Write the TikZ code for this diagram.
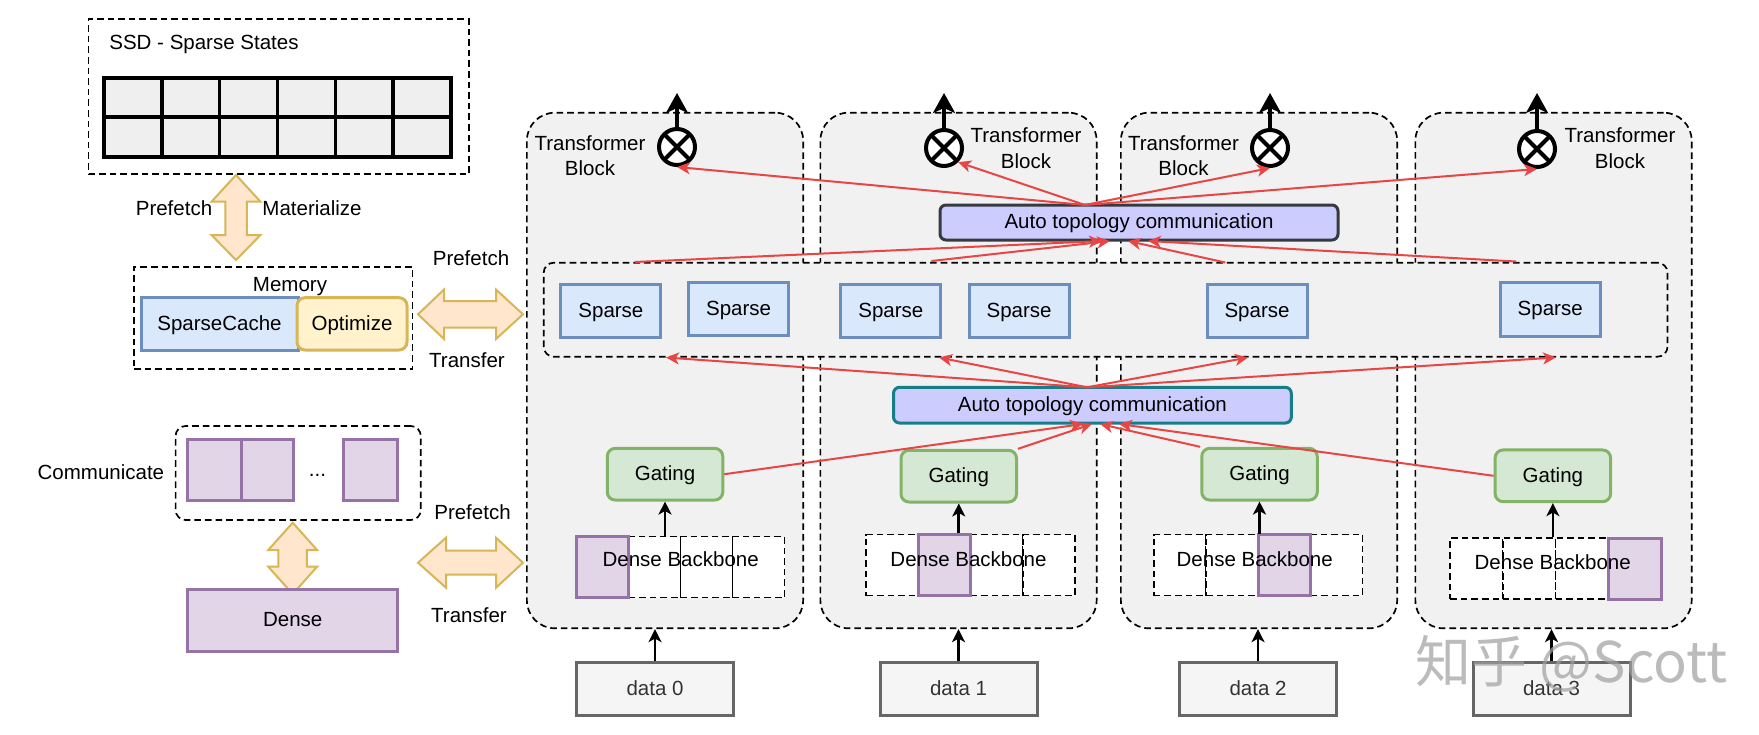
\documentclass[tikz,border=0pt]{standalone}
\usepackage{fontspec}
\setmainfont{Liberation Sans}
\newfontfamily\cjkfont{Noto Sans CJK SC}
\usetikzlibrary{arrows.meta,calc}
\definecolor{cfill}{HTML}{F1F1F1}
\definecolor{gridfill}{HTML}{EFEFEF}
\definecolor{bluefill}{HTML}{DAE8FC}
\definecolor{bluedraw}{HTML}{6C8EBF}
\definecolor{greenfill}{HTML}{D5E8D4}
\definecolor{greendraw}{HTML}{82B366}
\definecolor{purfill}{HTML}{E1D5E7}
\definecolor{purdraw}{HTML}{9673A6}
\definecolor{yelfill}{HTML}{FFF2CC}
\definecolor{yeldraw}{HTML}{D6B656}
\definecolor{peach}{HTML}{FFE6CC}
\definecolor{autofill}{HTML}{CCCCFF}
\definecolor{autodraw}{HTML}{36393D}
\definecolor{tealdraw}{HTML}{177E89}
\definecolor{datafill}{HTML}{F5F5F5}
\definecolor{datadraw}{HTML}{666666}
\definecolor{redline}{HTML}{E84545}
\tikzset{
  px/.style 2 args={minimum width={(#1)*0.5pt}, minimum height={(#2)*0.5pt}},
  lbl/.style={font=\fontsize{10.25}{12.8}\selectfont, inner sep=0pt, text height=7.2pt, text depth=1pt},
  lbltwo/.style={font=\fontsize{10.25}{12.8}\selectfont, inner sep=0pt, align=center},
  box/.style={draw, line width=1.5pt, inner sep=0pt, font=\fontsize{10.25}{12.8}\selectfont, text height=7.2pt, text depth=1pt},
  dashbox/.style={draw, line width=0.85pt, dash pattern=on 3.3pt off 2pt, inner sep=0pt},
  container/.style={dashbox, fill=cfill, rounded corners=14pt},
  sparsebox/.style={box, fill=bluefill, draw=bluedraw},
  gatebox/.style={box, fill=greenfill, draw=greendraw, rounded corners=4pt},
  purbox/.style={box, fill=purfill, draw=purdraw},
  cellbox/.style={dashbox, fill=white},
  databox/.style={box, fill=datafill, draw=datadraw, text=black!80},
  autobox/.style={box, fill=autofill, rounded corners=3pt},
  redarrow/.style={draw=redline, line width=1pt, -{Stealth[length=6.5pt,width=6pt,inset=1.8pt]}},
  blkarrow/.style={line width=1.3pt, -{Stealth[length=6.5pt,width=6.5pt,inset=1.8pt]}},
  outarrow/.style={line width=2.2pt, -{Stealth[length=10pt,width=11pt,inset=2.5pt]}},
  otimes/.style={circle, draw, line width=2pt, fill=white, minimum size=18pt, inner sep=0pt,
     path picture={\draw[line width=2pt] (path picture bounding box.north east) -- (path picture bounding box.south west)
                   (path picture bounding box.north west) -- (path picture bounding box.south east);}},
  blockarr/.style={draw=yeldraw, fill=peach, line width=1pt, line join=miter},
}
\begin{document}
\begin{tikzpicture}[x=0.5pt, y=-0.5pt]
\useasboundingbox (0,0) rectangle (1759,734);
\fill[white] (0,0) rectangle (1759,734);

% ---------------- left: SSD ----------------
\node[dashbox, px={380.5}{155}] (ssd) at (278.75,96.5) {};
\node[lbl, anchor=west] (ssdt) at (109,43.3) {SSD - Sparse States};
\draw[fill=gridfill, line width=1.8pt] (104,77.7) rectangle (451,156.7);
\foreach \i in {1,...,5} \draw[line width=1.8pt] ({104+\i*57.833},77.7) -- ({104+\i*57.833},156.7);
\draw[line width=1.8pt] (104,117.2) -- (451,117.2);

% vertical block arrow SSD <-> memory
\draw[blockarr] (236,175) -- (260.5,201.7) -- (246.75,201.7) -- (246.75,235) -- (260.5,235) -- (236,260)
  -- (211.5,235) -- (225.25,235) -- (225.25,201.7) -- (211.5,201.7) -- cycle;
\node[lbl] (pf1) at (174,209) {Prefetch};
\node[lbl] (mat) at (312,209) {Materialize};

% memory
\node[dashbox, px={278.5}{102.6}] (mem) at (273.25,318) {};
\node[lbl] (memt) at (290,285) {Memory};
\node[box, fill=bluefill, draw=bluedraw, px={157}{52.3}] (scache) at (219.5,323.85) {SparseCache};
\node[box, fill=yelfill, draw=yeldraw, rounded corners=4pt, px={110}{52.3}] (opt) at (352,323.85) {Optimize};

% horizontal block arrow memory <-> sparse
\draw[blockarr] (418,314.3) -- (444,289.6) -- (444,301) -- (496,301) -- (496,289.6) -- (523,314.3)
  -- (496,339) -- (496,327.6) -- (444,327.6) -- (444,339) -- cycle;
\node[lbl] (pf2) at (471,259.3) {Prefetch};
\node[lbl] (tr1) at (467,361.7) {Transfer};

% communicate
\node[dashbox, rounded corners=5pt, px={245.2}{94}] (comm) at (298.2,473) {};
\node[purbox, px={53.3}{61.7}] (p1) at (214.35,469.85) {};
\node[purbox, px={52.4}{61.7}] (p2) at (267.2,469.85) {};
\node[purbox, px={54.4}{61.7}] (p3) at (370.5,469.85) {};
\node[lbl] (dots) at (317.5,470) {...};
\node[lbl] (commt) at (100.9,473.3) {Communicate};

% vertical block arrow communicate <-> dense
\draw[blockarr] (292.7,522.7) -- (317.1,550) -- (306.95,550) -- (306.95,566.7) -- (317.1,566.7) -- (292.7,594)
  -- (268.3,566.7) -- (278.45,566.7) -- (278.45,550) -- (268.3,550) -- cycle;
\node[purbox, px={210}{62.4}] (dense) at (292.7,620.5) {Dense};

% horizontal block arrow dense <-> backbone
\draw[blockarr] (418,562.7) -- (446,537.7) -- (446,550.7) -- (496,550.7) -- (496,537.7) -- (523,562.7)
  -- (496,587.7) -- (496,574.7) -- (446,574.7) -- (446,587.7) -- cycle;
\node[lbl] (pf3) at (472.5,513.3) {Prefetch};
\node[lbl] (tr2) at (469,616) {Transfer};

% ---------------- right: transformer blocks ----------------
\node[container, px={276.3}{515.6}] (tb1) at (665,370.5) {};
\node[container, px={276.3}{515.6}] (tb2) at (958.5,370.5) {};
\node[container, px={276.3}{515.6}] (tb3) at (1259,370.5) {};
\node[container, px={276.3}{515.6}] (tb4) at (1553.5,370.5) {};

\node[lbltwo] (tl1) at (590,155.5) {Transformer\\Block};
\node[lbltwo] (tl2) at (1026,148) {Transformer\\Block};
\node[lbltwo] (tl3) at (1183.5,155.5) {Transformer\\Block};
\node[lbltwo] (tl4) at (1620,148) {Transformer\\Block};

% sparse container
\node[dashbox, fill=cfill, rounded corners=5pt, px={1123.8}{94}] (sp) at (1105.6,309.7) {};
\node[sparsebox, px={100}{53.5}] (s1) at (610.9,310.85) {Sparse};
\node[sparsebox, px={100}{53.5}] (s2) at (738.55,309.15) {Sparse};
\node[sparsebox, px={100}{53.5}] (s3) at (890.85,310.85) {Sparse};
\node[sparsebox, px={100}{53.5}] (s4) at (1019.05,310.85) {Sparse};
\node[sparsebox, px={100}{53.5}] (s5) at (1257,310.85) {Sparse};
\node[sparsebox, px={100}{53.5}] (s6) at (1550.2,309.7) {Sparse};

% auto topology boxes
\node[autobox, draw=autodraw, px={398}{35}] (autotop) at (1139,222.5) {Auto topology communication};
\node[autobox, draw=tealdraw, px={397.8}{35.7}] (autobot) at (1092.4,405.15) {Auto topology communication};

% otimes circles
\node[otimes] (cc1) at (677,147) {};
\node[otimes] (cc2) at (944,148) {};
\node[otimes] (cc3) at (1270,148) {};
\node[otimes] (cc4) at (1537,149) {};
\draw[outarrow] (cc1.north) -- ++(0,-34);
\draw[outarrow] (cc2.north) -- ++(0,-35);
\draw[outarrow] (cc3.north) -- ++(0,-35);
\draw[outarrow] (cc4.north) -- ++(0,-36);

% gating
\node[gatebox, px={115.5}{51.7}] (g1) at (665,474.2) {Gating};
\node[gatebox, px={115.5}{51.7}] (g2) at (958.75,476.15) {Gating};
\node[gatebox, px={115.5}{51.7}] (g3) at (1259.5,474.2) {Gating};
\node[gatebox, px={115.5}{51.7}] (g4) at (1552.85,475.8) {Gating};

% dense backbones
\foreach \n/\x/\w/\y in {1/576.6/52/567, 2/866.3/52.15/565, 3/1153.8/52.2/565, 4/1450.1/52.75/568.8}{
  \foreach \c/\l in {1/a,2/b,3/c,4/d}{
    \node[cellbox, px={\w}{61}] (b\n\l) at ({\x+(\c-0.5)*\w},\y) {};
  }
}
\node[purbox, px={52}{61}] (bp1) at (602.6,567) {};
\node[purbox, px={52.15}{61}] (bp2) at (944.5,565) {};
\node[purbox, px={52.2}{61}] (bp3) at (1284.3,565) {};
\node[purbox, px={52.75}{61}] (bp4) at (1634.8,568.8) {};
\node[lbl] (dbt1) at (680.7,560.7) {Dense Backbone};
\node[lbl] (dbt2) at (968.5,560) {Dense Backbone};
\node[lbl] (dbt3) at (1254.7,560) {Dense Backbone};
\node[lbl] (dbt4) at (1552.7,563.3) {Dense Backbone};

\draw[blkarrow] (g1.south |- b1b.north) -- (g1.south);
\draw[blkarrow] (g2.south |- bp2.north) -- (g2.south);
\draw[blkarrow] (g3.south |- b3b.north) -- (g3.south);
\draw[blkarrow] (g4.south |- b4c.north) -- (g4.south);

% data
\node[databox, px={157}{52.3}] (d0) at (655,688.85) {data 0};
\node[databox, px={157}{52.3}] (d1) at (958.5,688.85) {data 1};
\node[databox, px={157}{52.3}] (d2) at (1258,688.85) {data 2};
\node[databox, px={157}{52.3}] (d3) at (1551.5,688.85) {data 3};
\draw[blkarrow] (d0.north) -- (d0.north |- tb1.south);
\draw[blkarrow] (d1.north) -- (d1.north |- tb2.south);
\draw[blkarrow] (d2.north) -- (d2.north |- tb3.south);
\draw[blkarrow] (d3.north) -- (d3.north |- tb4.south);

% ---------------- red connectors ----------------
\coordinate (o1) at (1085,205);
\draw[redarrow] (o1) -- (cc1.south);
\draw[redarrow] (o1) -- (cc2.south east);
\draw[redarrow] (o1) -- (cc3.south);
\draw[redarrow] (o1) -- (cc4.south);

\coordinate (ua) at (634.8,262);
\coordinate (ub) at (931.4,261);
\coordinate (uc) at (1225.3,262.5);
\coordinate (ud) at (1516,261.5);
\coordinate (ta) at (1102,241);
\coordinate (tb) at (1110,241);
\coordinate (tc) at (1128,241);
\coordinate (td) at (1148,241);
\draw[redarrow] (ua) -- (ta);
\draw[redarrow] (ub) -- (tb);
\draw[redarrow] (uc) -- (tc);
\draw[redarrow] (ud) -- (td);

\coordinate (o2) at (1087,387.3);
\coordinate (da) at (666,357.5);
\coordinate (db) at (939,357.5);
\coordinate (dc) at (1248,357.5);
\coordinate (dd) at (1556,357.5);
\draw[redarrow] (o2) -- (da);
\draw[redarrow] (o2) -- (db);
\draw[redarrow] (o2) -- (dc);
\draw[redarrow] (o2) -- (dd);

\coordinate (ga) at (1083,424);
\coordinate (gb) at (1092,424);
\coordinate (gc) at (1100,424);
\coordinate (gd) at (1119,424);
\draw[redarrow] (g1.east) -- (ga);
\draw[redarrow] (g2.north east) -- (gb);
\draw[redarrow] (g3.north west) -- (gc);
\draw[redarrow] (g4.west) -- (gd);

% watermark
\node[anchor=base west, font=\cjkfont\fontsize{28}{28}\selectfont, text=gray!75, opacity=0.7, inner sep=0pt] (wm) at (1415,682) {知乎 @Scott};
\end{tikzpicture}
\end{document}
